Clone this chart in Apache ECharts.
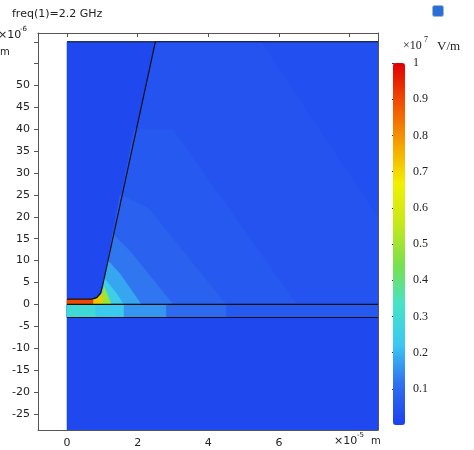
<!DOCTYPE html><html><head><meta charset="utf-8"><script src="https://cdn.jsdelivr.net/npm/echarts@6/dist/echarts.min.js"></script></head><body style="margin:0"><div id="c" style="width:474px;height:450px"></div><script>
// field regions: polygon vertices [x,y] (x in 1e-5 m, y in 1e-6 m) and |E| value (1e7 V/m)
const regionPolys = [
  [[0,-29],[8.8,-29],[8.8,60],[0,60]],
  [[2.5,60],[8.8,60],[8.8,0],[0.9,0],[1.0,3]],
  [[2.5,60],[5.5,60],[8.8,20],[8.8,0],[0.9,0],[1.0,3]],
  [[1.9,40],[3.0,40],[6.5,0],[0.9,0],[1.0,3]],
  [[1.5,25],[2.3,22],[4.5,0],[0.9,0],[1.0,3]],
  [[1.3,16],[1.8,12],[3.0,0],[0.9,0],[1.0,3]],
  [[1.15,10],[1.5,7],[2.1,0],[0.9,0],[1.0,3]],
  [[1.05,6],[1.4,2.5],[1.6,0],[0.9,0],[1.0,3]],
  [[0,-3],[8.8,-3],[8.8,0],[0,0]],
  [[0,-3],[4.5,-3],[4.5,0],[0,0]],
  [[0,-3],[2.8,-3],[2.8,0],[0,0]],
  [[0,-3],[1.6,-3],[1.6,0],[0,0]],
  [[0,-3],[0.8,-3],[0.8,0],[0,0]],
  [[0,0],[0.75,0],[0.75,1.2],[0,1.2]],
  [[0.75,0],[1.05,0],[1.0,2.5],[0.8,1.2],[0.75,1.2]],
  [[1.0,0],[1.25,0],[1.05,4],[1.0,2.5]]
];
const regionValues = [0.02,0.035,0.045,0.06,0.08,0.12,0.18,0.25,0.06,0.1,0.16,0.23,0.29,0.9,0.72,0.5];
const boundaryLines = [
  [[0,0],[8.8,0]],
  [[0,-3],[8.8,-3]],
  [[0,1.2],[0.7,1.2],[0.85,1.6],[0.95,2.6],[1.0,4],[2.5,60]],
  [[0,60],[8.8,60]]
];
const yTicks = [-25,-20,-15,-10,-5,0,5,10,15,20,25,30,35,40,45,50,55,60];
const yLabels = [-25,-20,-15,-10,-5,0,5,10,15,20,25,30,35,40,45,50];
const xLabels = [0,2,4,6];
const cbLabels = [0.1,0.2,0.3,0.4,0.5,0.6,0.7,0.8,0.9,1];
const colors = ['#1c40ee','#2f6ff0','#3cc8f2','#45e3c8','#7ae04a','#c6e81c','#f2f000','#f5a000','#f25000','#e00000'];

const ch = echarts.init(document.getElementById('c'));
const lbl = {fontFamily:'DejaVu Sans',fontSize:11,color:'#222'};
ch.setOption({
  animation:false,
  graphic:[
    {type:'text',left:12,top:9,style:{text:'freq(1)=2.2 GHz',fontFamily:'DejaVu Sans',fontSize:11,fill:'#222'}},
    {type:'text',left:-2,top:30,style:{text:'×10',fontFamily:'DejaVu Sans',fontSize:11,fill:'#222'}},
    {type:'text',left:20,top:26,style:{text:'-6',fontFamily:'DejaVu Sans',fontSize:7,fill:'#222'}},
    {type:'text',left:0,top:47,style:{text:'m',fontFamily:'DejaVu Sans',fontSize:10,fill:'#222'}},
    {type:'text',left:334,top:436,style:{text:'×10',fontFamily:'DejaVu Sans',fontSize:11,fill:'#222'}},
    {type:'text',left:357,top:432,style:{text:'-5',fontFamily:'DejaVu Sans',fontSize:7,fill:'#222'}},
    {type:'text',left:371,top:436,style:{text:'m',fontFamily:'DejaVu Sans',fontSize:10,fill:'#222'}},
    {type:'text',left:403,top:40,style:{text:'×10',fontFamily:'Liberation Serif',fontSize:12,fill:'#222'}},
    {type:'text',left:424,top:36,style:{text:'7',fontFamily:'Liberation Serif',fontSize:8,fill:'#222'}},
    {type:'text',left:437,top:40,style:{text:'V/m',fontFamily:'Liberation Serif',fontSize:13,fill:'#222'}},
    {type:'rect',left:432,top:5,shape:{width:11,height:11,r:2},style:{fill:'#2a6fd8',stroke:'#9bc',lineWidth:1}}
  ],
  grid:[{left:38,right:96,top:33,bottom:20},{left:395,width:12,top:63,bottom:25}],
  xAxis:[
    {type:'value',min:-0.82,max:8.8,gridIndex:0,axisLine:{onZero:false,lineStyle:{color:'#555'}},splitLine:{show:false},
     axisTick:{inside:true,customValues:[0,2,4,6,8],length:4},axisLabel:Object.assign({customValues:xLabels},lbl)},
    {type:'value',min:-0.82,max:8.8,gridIndex:0,position:'top',axisLine:{onZero:false,lineStyle:{color:'#555'}},splitLine:{show:false},
     axisTick:{inside:true,customValues:[0,2,4,6,8],length:4},axisLabel:{show:false}},
    {type:'value',gridIndex:1,show:false,min:0,max:1}
  ],
  yAxis:[
    {type:'value',min:-28.7,max:62,gridIndex:0,axisLine:{show:true,onZero:false,lineStyle:{color:'#555'}},splitLine:{show:false},
     axisTick:{show:true,inside:false,customValues:yTicks,length:4},axisLabel:Object.assign({customValues:yLabels},lbl)},
    {type:'value',min:-28.7,max:62,gridIndex:0,position:'right',axisLine:{show:true,onZero:false,lineStyle:{color:'#555'}},splitLine:{show:false},
     axisTick:{show:true,inside:true,customValues:yTicks,length:4},axisLabel:{show:false}},
    {type:'value',min:0,max:1,gridIndex:1,position:'right',axisLine:{show:false},splitLine:{show:false},
     axisTick:{show:true,inside:true,length:3,customValues:cbLabels,lineStyle:{color:'#333'}},
     axisLabel:Object.assign({customValues:cbLabels,margin:6},lbl,{fontFamily:'Liberation Serif',fontSize:12})}
  ],
  visualMap:{type:'continuous',min:0,max:1,seriesIndex:0,calculable:false,show:true,itemWidth:12,itemHeight:362,
    right:54,bottom:10,text:['',''],inRange:{color:colors},showLabel:false},
  series:[
    {type:'custom',xAxisIndex:0,yAxisIndex:0,clip:true,
     data:regionValues.map((v,i)=>[i,v]),
     encode:{x:-1,y:-1},
     renderItem:(p,api)=>{
       const i=api.value(0);
       const pts=regionPolys[i].map(q=>api.coord(q));
       return {type:'polygon',shape:{points:pts},style:{fill:api.visual('color'),stroke:api.visual('color'),lineWidth:0.5}};
     }},
    {type:'custom',xAxisIndex:0,yAxisIndex:0,data:boundaryLines.map((l,i)=>[i]),encode:{x:-1,y:-1},
     renderItem:(p,api)=>({type:'polyline',shape:{points:boundaryLines[api.value(0)].map(q=>api.coord(q))},style:{stroke:'#111',lineWidth:1.2,fill:null}})}
  ]
});
</script></body></html>
